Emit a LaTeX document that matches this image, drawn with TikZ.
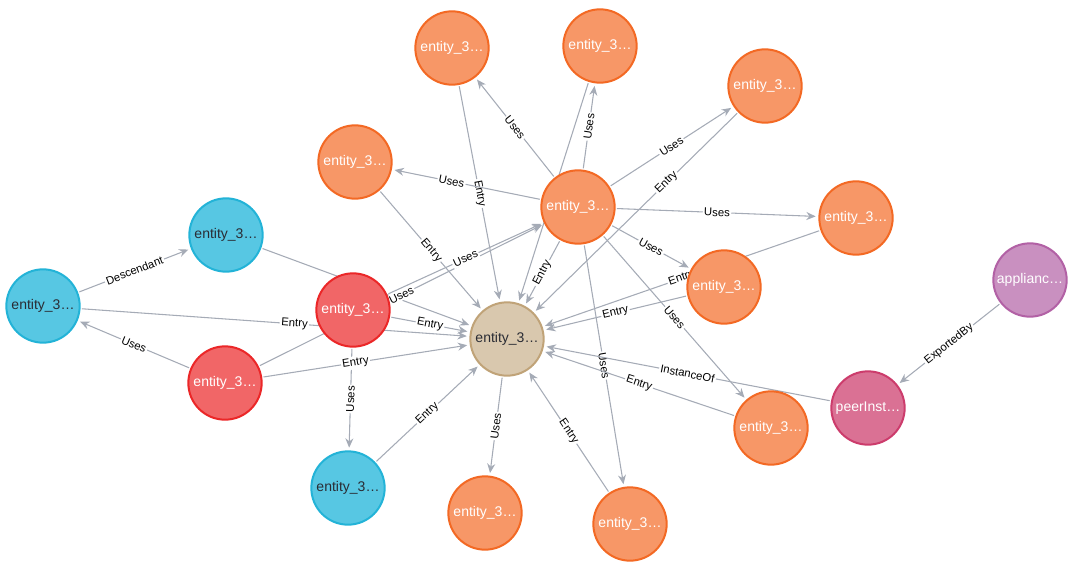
\documentclass[tikz,border=0pt]{standalone}
\usepackage{fontspec}
\setmainfont{Liberation Sans}
\usetikzlibrary{arrows.meta,backgrounds}
\definecolor{edge}{HTML}{A5ABB6}
\definecolor{orF}{HTML}{F79767}\definecolor{orD}{HTML}{F36924}
\definecolor{beF}{HTML}{D9C8AE}\definecolor{beD}{HTML}{C0A378}
\definecolor{blF}{HTML}{57C7E3}\definecolor{blD}{HTML}{23B3D7}
\definecolor{rdF}{HTML}{F16667}\definecolor{rdD}{HTML}{EB2728}
\definecolor{pkF}{HTML}{DA7194}\definecolor{pkD}{HTML}{CC3C6C}
\definecolor{ppF}{HTML}{C990C0}\definecolor{ppD}{HTML}{B261A5}
\definecolor{dk}{HTML}{2A2C34}
\tikzset{
  ent/.style={circle,minimum size=55pt,inner sep=0pt,line width=1.5pt,font=\fontsize{10.5}{12}\selectfont},
  org/.style={ent,fill=orF,draw=orD,text=white},
  beige/.style={ent,fill=beF,draw=beD,text=dk},
  blu/.style={ent,fill=blF,draw=blD,text=dk},
  rd/.style={ent,fill=rdF,draw=rdD,text=white},
  pnk/.style={ent,fill=pkF,draw=pkD,text=white},
  prp/.style={ent,fill=ppF,draw=ppD,text=white},
  rel/.style={draw=edge,line width=0.8pt,-{Stealth[length=7pt,width=6pt]},shorten >=2pt,shorten <=1pt},
  lab/.style={sloped,fill=white,inner sep=1pt,font=\fontsize{8.5}{9}\selectfont,text=black}
}
\begin{document}
\begin{tikzpicture}[x=0.75pt,y=-0.75pt]
\useasboundingbox (0,0) rectangle (1074,571);
\node[beige] (C) at (507,339) {entity\_3…};
\node[org] (H) at (578,207) {entity\_3…};
\node[org] (O1) at (452,48) {entity\_3…};
\node[org] (O2) at (600,46) {entity\_3…};
\node[org] (O3) at (765,86) {entity\_3…};
\node[org] (O4) at (355,162) {entity\_3…};
\node[org] (O5) at (856,218) {entity\_3…};
\node[org] (O6) at (724,287) {entity\_3…};
\node[org] (O7) at (771,428) {entity\_3…};
\node[org] (O8) at (485,513) {entity\_3…};
\node[org] (O9) at (630,524) {entity\_3…};
\node[blu] (B1) at (226,235) {entity\_3…};
\node[blu] (B2) at (43,306) {entity\_3…};
\node[blu] (B3) at (348,488) {entity\_3…};
\node[rd] (R1) at (353,310) {entity\_3…};
\node[rd] (R2) at (225,383) {entity\_3…};
\node[pnk] (P) at (868,408) {peerInst…};
\node[prp] (A) at (1030,280) {applianc…};
\begin{pgfonlayer}{background}
\draw[rel] (B2) -- node[lab]{Descendant} (B1);
\draw[rel] (R2) -- node[lab]{Uses} (B2);
\draw[rel] (B2) -- node[lab,pos=0.55]{Entry} (C);
\draw[rel] (B1) -- (C);
\draw[rel] (R1) -- node[lab]{Entry} (C);
\draw[rel] (R1) -- node[lab]{Uses} (B3);
\draw[rel] (R2) -- node[lab,pos=0.45]{Entry} (C);
\draw[rel] (R2) -- node[lab,pos=0.5]{Uses} (H);
\draw[rel] (R1) -- node[lab]{Uses} (H);
\draw[rel] (B3) -- node[lab]{Entry} (C);
\draw[rel] (O4) -- node[lab]{Entry} (C);
\draw[rel] (O1) -- node[lab]{Entry} (C);
\draw[rel] (O2) -- (C);
\draw[rel] (H) -- node[lab]{Uses} (O1);
\draw[rel] (H) -- node[lab]{Uses} (O2);
\draw[rel] (H) -- node[lab]{Uses} (O3);
\draw[rel] (H) -- node[lab,pos=0.6]{Uses} (O4);
\draw[rel] (H) -- node[lab]{Uses} (O5);
\draw[rel] (H) -- node[lab]{Uses} (O6);
\draw[rel] (H) -- node[lab]{Uses} (O7);
\draw[rel] (H) -- node[lab]{Uses} (O9);
\draw[rel] (H) -- node[lab]{Entry} (C);
\draw[rel] (O3) -- node[lab,pos=0.35]{Entry} (C);
\draw[rel] (O5) -- node[lab]{Entry} (C);
\draw[rel] (O6) -- node[lab]{Entry} (C);
\draw[rel] (O7) -- node[lab]{Entry} (C);
\draw[rel] (P) -- node[lab]{InstanceOf} (C);
\draw[rel] (A) -- node[lab]{ExportedBy} (P);
\draw[rel] (C) -- node[lab]{Uses} (O8);
\draw[rel] (O9) -- node[lab]{Entry} (C);
\end{pgfonlayer}
\end{tikzpicture}
\end{document}
